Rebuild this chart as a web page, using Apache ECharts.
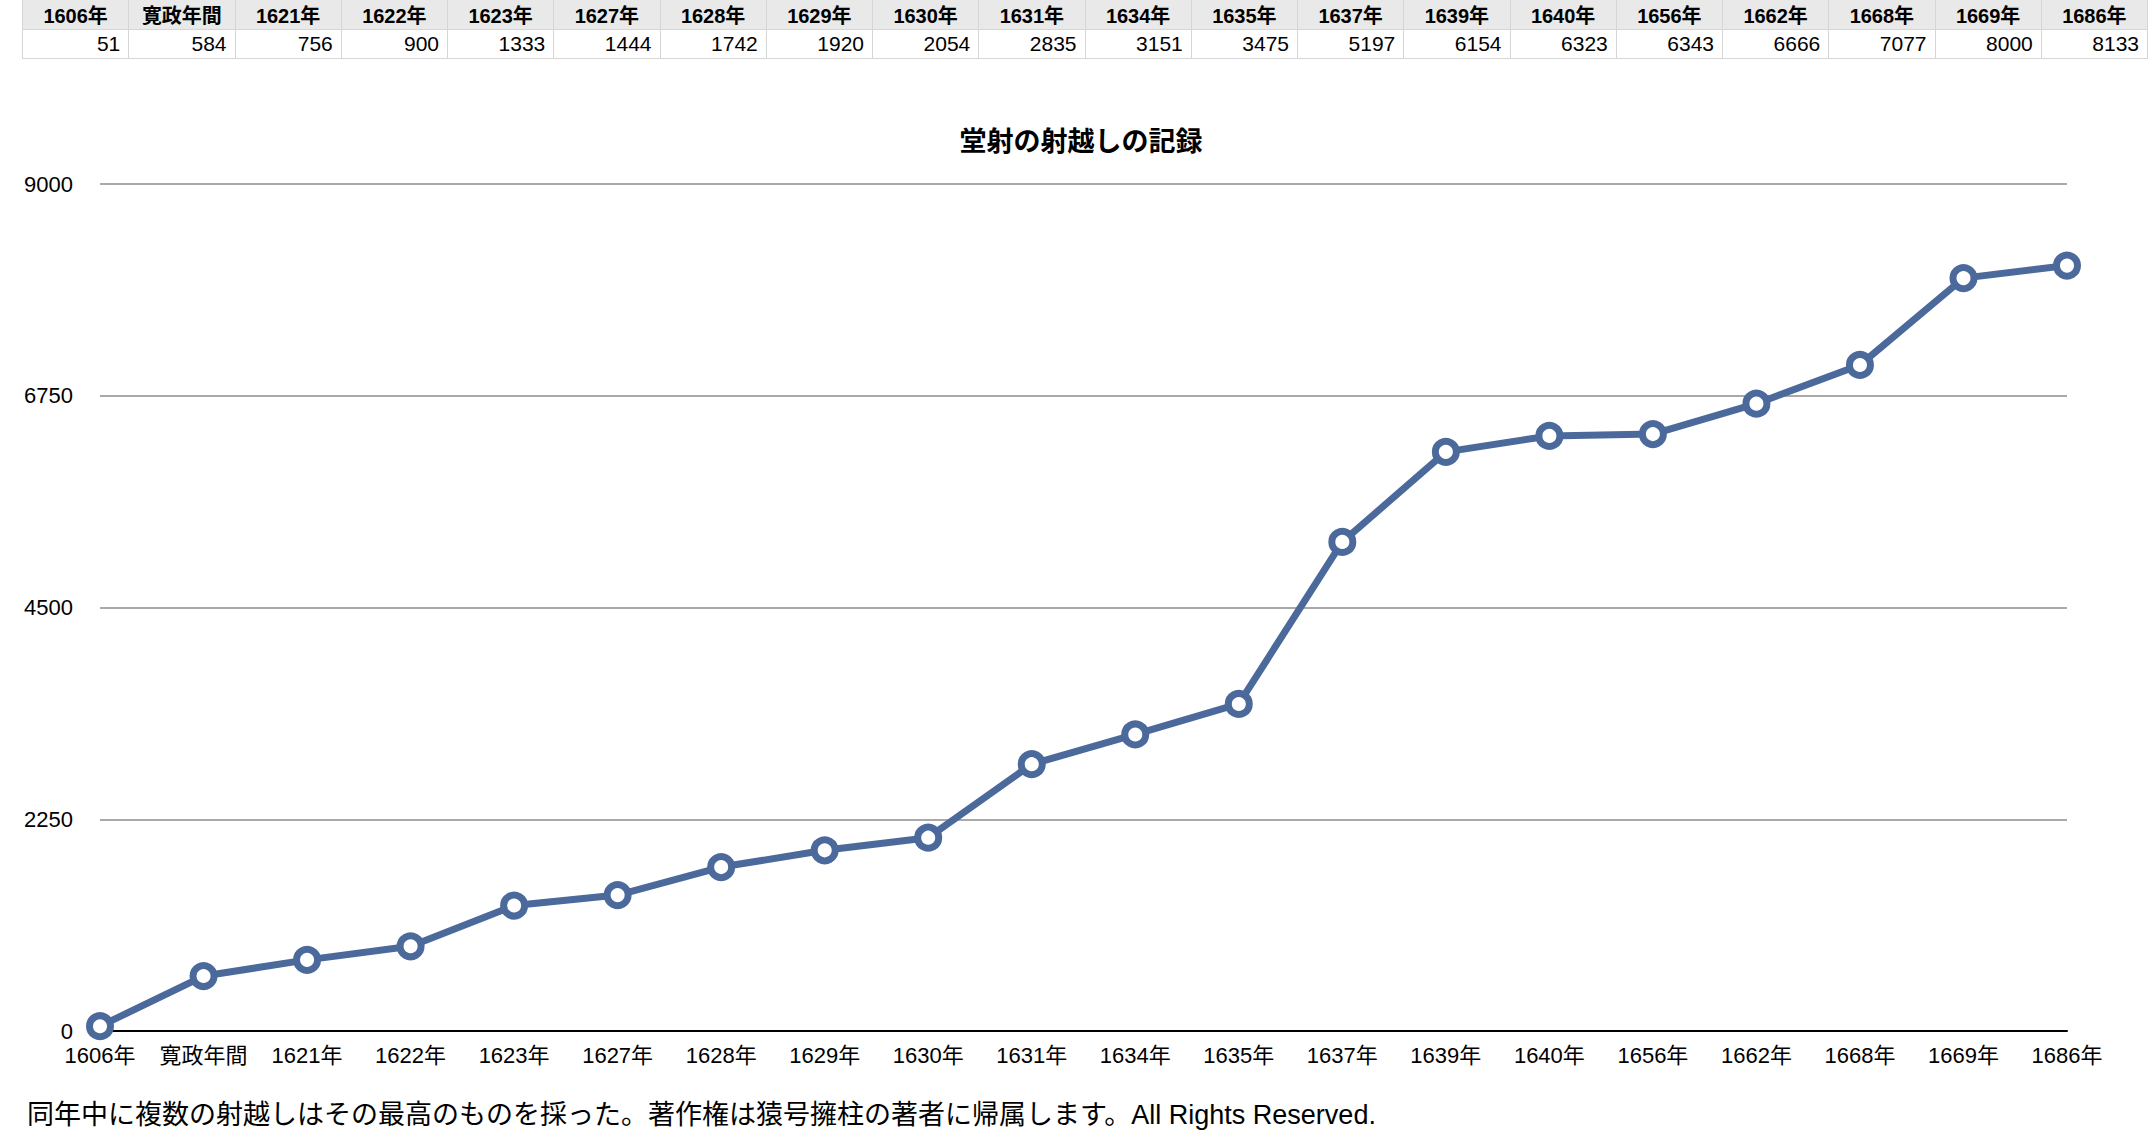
<!DOCTYPE html>
<html>
<head>
<meta charset="utf-8">
<script src="https://cdn.jsdelivr.net/npm/echarts@6/dist/echarts.min.js"></script>
<style>
  html, body { margin: 0; padding: 0; background: #fff; width: 2149px; height: 1133px; overflow: hidden; }
  #tbl { position: absolute; left: 22px; top: 0; width: 2126px; border-collapse: collapse; table-layout: fixed;
         font-family: 'Liberation Sans', 'Noto Sans CJK JP', sans-serif; font-size: 20px; color: #000; z-index: 2; }
  #tbl th { background: #e9e9e9; font-weight: bold; height: 29px; padding: 0; text-align: center;
            border: 1px solid #d6d6d6; border-top: none; }
  #tbl td { height: 28px; padding: 0 8px 0 0; text-align: right; border: 1px solid #d6d6d6; font-size: 21px; }
  #chart { position: absolute; left: 0; top: 0; width: 2149px; height: 1133px; }
</style>
</head>
<body>
<div id="chart"></div>
<table id="tbl"><thead><tr id="hdr"></tr></thead><tbody><tr id="vals"></tr></tbody></table>
<script>
const categories = ['1606年','寛政年間','1621年','1622年','1623年','1627年','1628年','1629年','1630年','1631年',
                    '1634年','1635年','1637年','1639年','1640年','1656年','1662年','1668年','1669年','1686年'];
const values = [51, 584, 756, 900, 1333, 1444, 1742, 1920, 2054, 2835,
                3151, 3475, 5197, 6154, 6323, 6343, 6666, 7077, 8000, 8133];
const yTicks = [0, 2250, 4500, 6750, 9000];
const chartTitle = '堂射の射越しの記録';
const footnote = '同年中に複数の射越しはその最高のものを採った。著作権は猿号擁柱の著者に帰属します。All Rights Reserved.';

// data table
const hdr = document.getElementById('hdr');
const vals = document.getElementById('vals');
categories.forEach((c, i) => {
  const th = document.createElement('th'); th.textContent = c; hdr.appendChild(th);
  const td = document.createElement('td'); td.textContent = String(values[i]); vals.appendChild(td);
});

const FONT = "'Liberation Sans', 'Noto Sans CJK JP', sans-serif";
const chart = echarts.init(document.getElementById('chart'), null, { renderer: 'svg' });
chart.setOption({
  animation: false,
  backgroundColor: '#fff',
  title: [
    { text: chartTitle, left: 1076, top: 123, textAlign: 'center',
      textStyle: { fontFamily: FONT, fontSize: 27, fontWeight: 'bold', color: '#000' } },
    { text: footnote, left: 22, top: 1096,
      textStyle: { fontFamily: FONT, fontSize: 27, fontWeight: 'normal', color: '#000' } }
  ],
  grid: { left: 100, right: 82, top: 184, bottom: 102, containLabel: false },
  xAxis: {
    type: 'category', data: categories, boundaryGap: false,
    axisLine: { show: true, lineStyle: { color: '#000', width: 2 } },
    axisTick: { show: false },
    axisLabel: { fontFamily: FONT, fontSize: 22, color: '#000', margin: 13, interval: 0 },
    splitLine: { show: false }
  },
  yAxis: {
    type: 'value', min: yTicks[0], max: yTicks[yTicks.length - 1], interval: yTicks[1] - yTicks[0],
    axisLine: { show: false }, axisTick: { show: false },
    axisLabel: { fontFamily: FONT, fontSize: 22, color: '#000', margin: 27, formatter: v => String(v) },
    splitLine: { show: true, lineStyle: { color: '#a9a9a9', width: 2 } }
  },
  series: [{
    type: 'line', data: values,
    symbol: 'circle', symbolSize: 21,
    lineStyle: { color: '#4b6a9b', width: 7 },
    itemStyle: { color: '#ffffff', borderColor: '#4b6a9b', borderWidth: 7 },
    z: 5
  }]
});
</script>
</body>
</html>
